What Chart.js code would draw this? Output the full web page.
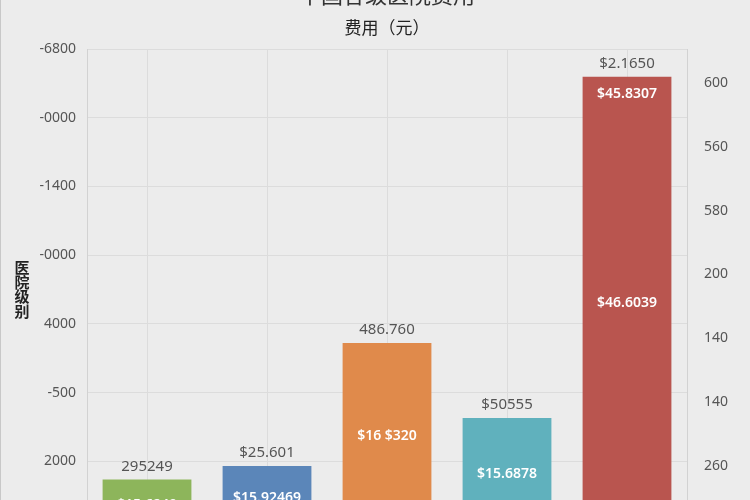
<!DOCTYPE html>
<html>
<head>
<meta charset="utf-8">
<script src="https://cdn.jsdelivr.net/npm/chart.js@4.4.1/dist/chart.umd.min.js"></script>
<style>
  html, body { margin: 0; padding: 0; background: #ececec; overflow: hidden; }
  #wrap { position: relative; width: 750px; height: 560px; border-left: 1px solid #c8c8c8; box-sizing: border-box; }
</style>
</head>
<body>
<div id="wrap"><canvas id="chart" width="749" height="560"></canvas></div>
<script>
  // chart data
  const categories = ['三级甲等', '三级乙等', '二级甲等', '二级乙等', '一级'];
  const values = [734, 932, 2723, 1631, 6596];
  const barColors = ['#8db55b', '#5b86b9', '#e08a4b', '#60b1bd', '#b9554f'];
  const topLabels = ['295249', '$25.601', '486.760', '$50555', '$2.1650'];
  const innerLabels = ['$15.6249', '$15.92469', '$16 $320', '$15.6878', '$46.6039'];
  const extraTopInner = ['', '', '', '', '$45.8307'];
  const leftTicks = ['2000', '-500', '4000', '-0000', '-1400', '-0000', '-6800'];
  const rightTicks = ['260', '140', '140', '200', '580', '560', '600'];

  const titleText = '中国各级医院费用';
  const subtitleText = '费用（元）';
  const yTitle = '医院级别';

  const font = '"Noto Sans", "Noto Sans CJK SC", sans-serif';

  // titles and bar labels
  const labelPlugin = {
    id: 'labels',
    afterDatasetsDraw(chart) {
      const ctx = chart.ctx;
      const area = chart.chartArea;
      const cx = (area.left + area.right) / 2;
      ctx.save();
      ctx.textAlign = 'center';
      ctx.textBaseline = 'middle';
      ctx.fillStyle = '#333';
      ctx.font = '22px ' + font;
      ctx.fillText(titleText, cx, -3);
      ctx.fillStyle = '#222';
      ctx.font = '17px ' + font;
      ctx.fillText(subtitleText, cx, 29);

      ctx.font = 'bold 15px ' + font;
      ctx.fillStyle = '#222';
      const chars = Array.from(yTitle);
      chars.forEach((c, i) => {
        ctx.fillText(c, 21, 269 + i * 14.5);
      });

      const meta = chart.getDatasetMeta(0);
      meta.data.forEach((bar, i) => {
        ctx.font = '15px ' + font;
        ctx.fillStyle = '#555';
        ctx.fillText(topLabels[i], bar.x, bar.y - 13);
        ctx.fillStyle = '#fff';
        ctx.font = '600 14px ' + font;
        ctx.fillText(innerLabels[i], bar.x, (bar.y + bar.base) / 2);
        if (extraTopInner[i]) {
          ctx.fillText(extraTopInner[i], bar.x, bar.y + 17);
        }
      });
      ctx.restore();
    }
  };

  new Chart(document.getElementById('chart'), {
    type: 'bar',
    data: {
      labels: categories,
      datasets: [{
        data: values,
        backgroundColor: barColors,
        barPercentage: 0.74,
        categoryPercentage: 1,
        yAxisID: 'y'
      }]
    },
    options: {
      responsive: false,
      animation: false,
      layout: { padding: { top: 49, bottom: 0, left: 0, right: 0 } },
      plugins: {
        legend: { display: false },
        tooltip: { enabled: false }
      },
      scales: {
        x: {
          grid: { offset: false, color: '#dcdcdc', drawTicks: false },
          border: { display: false },
          ticks: { color: '#555', font: { family: font, size: 14 } },
          afterFit(scale) { scale.height = 30; }
        },
        y: {
          position: 'left',
          min: 0,
          max: 7000,
          grid: { color: '#dcdcdc', drawTicks: false },
          border: { color: '#d2d2d2' },
          ticks: {
            stepSize: 1000,
            padding: 11,
            color: '#555',
            font: { family: font, size: 14 },
            callback: (v) => v === 0 ? '' : leftTicks[v / 1000 - 1]
          },
          afterFit(scale) { scale.width = 86; }
        },
        y2: {
          position: 'right',
          min: 0,
          max: 7.53,
          grid: { drawOnChartArea: false, drawTicks: false },
          border: { color: '#d2d2d2' },
          ticks: {
            stepSize: 1,
            padding: 17,
            color: '#555',
            font: { family: font, size: 14 },
            callback: (v) => rightTicks[v - 1]
          },
          afterBuildTicks(scale) {
            scale.ticks = scale.ticks.filter(t => Number.isInteger(t.value) && t.value >= 1 && t.value <= 7);
          },
          afterFit(scale) { scale.width = 63; }
        }
      }
    },
    plugins: [labelPlugin]
  });
</script>
</body>
</html>
